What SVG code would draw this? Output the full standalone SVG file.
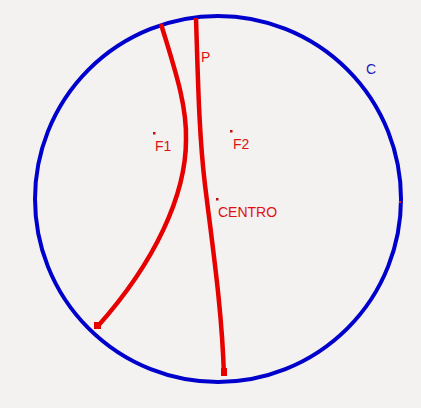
<svg xmlns="http://www.w3.org/2000/svg" width="421" height="408" viewBox="0 0 421 408">
<style>
.lbl{font-family:"Liberation Sans",Arial,sans-serif;font-size:14px;fill:#e01010}
.curve{fill:none;stroke:#e60000;stroke-width:4.5;stroke-linecap:butt}
.pt{fill:#c01010}
</style>
<rect width="421" height="408" fill="#f3f2f0"/>
<g id="circleC">
<circle cx="218" cy="199" r="183" fill="none" stroke="#0000cc" stroke-width="4"/>
<text x="366" y="74" font-family="Liberation Sans,Arial,sans-serif" font-size="14" fill="#2020c0">C</text>
<rect x="399" y="201" width="2" height="2" fill="#d02040"/>
</g>
<g id="connectors">
<path class="curve" d="M161,24 C175,70 187,105 186,140 C186,195 155,262 98,326"/>
<path class="curve" d="M196,18 C198,80 199,135 205,185 C213,250 222,310 224,376"/>
<rect x="94" y="322" width="7" height="7" fill="#e60000"/>
<rect x="221" y="368" width="6" height="8" fill="#e60000"/>
</g>
<g id="P"><text class="lbl" x="201" y="62">P</text></g>
<g id="F1"><rect class="pt" x="153" y="132" width="2.5" height="2.5"/><text class="lbl" x="155" y="151">F1</text></g>
<g id="F2"><rect class="pt" x="230" y="130" width="2.5" height="2.5"/><text class="lbl" x="233" y="149">F2</text></g>
<g id="CENTRO"><rect class="pt" x="216" y="198" width="2.5" height="2.5"/><text class="lbl" x="218" y="217">CENTRO</text></g>
</svg>
